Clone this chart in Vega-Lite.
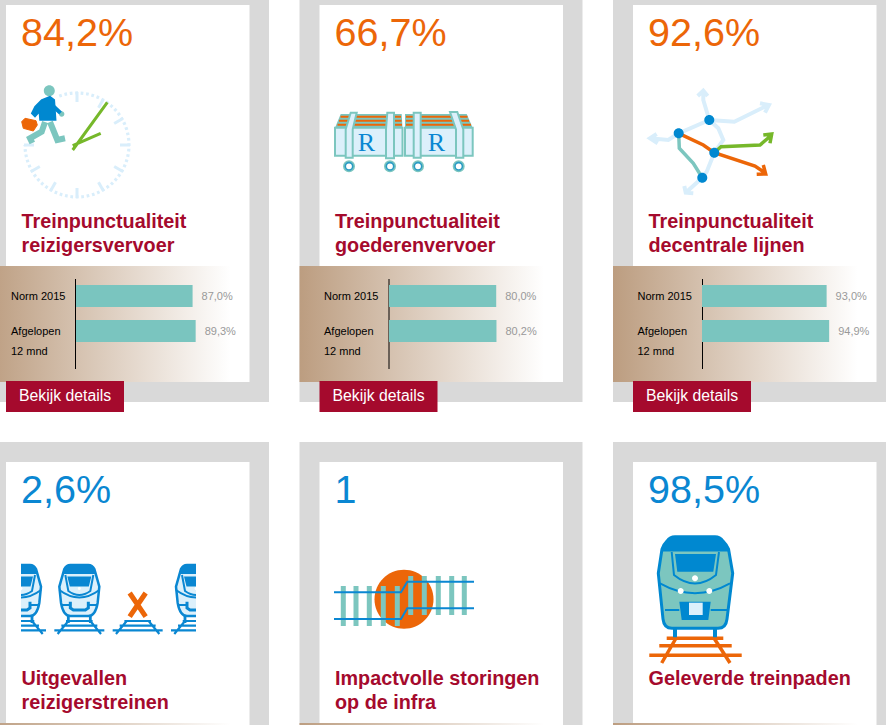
{
  "$schema": "https://vega.github.io/schema/vega-lite/v6.json",
  "width": 886,
  "height": 725,
  "autosize": "none",
  "padding": 0,
  "background": "white",
  "config": {"view": {"stroke": null}, "text": {"font": "Liberation Sans"}},
  "datasets": {
    "cards": [
      {"col": "c1", "row": "r1", "waarde": "84,2%", "titel": "Treinpunctualiteit\nreizigersvervoer"},
      {"col": "c2", "row": "r1", "waarde": "66,7%", "titel": "Treinpunctualiteit\ngoederenvervoer"},
      {"col": "c3", "row": "r1", "waarde": "92,6%", "titel": "Treinpunctualiteit\ndecentrale lijnen"},
      {"col": "c1", "row": "r2", "waarde": "2,6%", "titel": "Uitgevallen\nreizigerstreinen"},
      {"col": "c2", "row": "r2", "waarde": "1", "titel": "Impactvolle storingen\nop de infra"},
      {"col": "c3", "row": "r2", "waarde": "98,5%", "titel": "Geleverde treinpaden"}
    ],
    "bars": [
      {"col": "c1", "metric": "Norm 2015", "label": "Norm 2015", "value": 87.0, "tekst": "87,0%"},
      {"col": "c1", "metric": "Afgelopen", "label": "Afgelopen\n12 mnd", "value": 89.3, "tekst": "89,3%"},
      {"col": "c2", "metric": "Norm 2015", "label": "Norm 2015", "value": 80.0, "tekst": "80,0%"},
      {"col": "c2", "metric": "Afgelopen", "label": "Afgelopen\n12 mnd", "value": 80.2, "tekst": "80,2%"},
      {"col": "c3", "metric": "Norm 2015", "label": "Norm 2015", "value": 93.0, "tekst": "93,0%"},
      {"col": "c3", "metric": "Afgelopen", "label": "Afgelopen\n12 mnd", "value": 94.9, "tekst": "94,9%"}
    ],
    "slots": [
      {"slot": "links", "row": "r2", "status": "rijdt"},
      {"slot": "midden", "row": "r2", "status": "rijdt"},
      {"slot": "kruis", "row": "r2", "status": "uitgevallen"},
      {"slot": "rechts", "row": "r2", "status": "rijdt"}
    ]
  },
  "resolve": {"scale": {"x": "independent", "y": "independent"}},
  "layer": [
    {
      "encoding": {
        "x": {"field": "col", "type": "nominal", "axis": null, "scale": {"type": "point", "domain": ["c1", "c2", "c3"], "range": [6, 633], "padding": 0}},
        "y": {"field": "row", "type": "nominal", "axis": null, "scale": {"type": "point", "domain": ["r1", "r2"], "range": [0, 457], "padding": 0}}
      },
      "layer": [
        {
          "data": {"name": "cards"},
          "layer": [
            {"mark": {"type": "rect", "width": 283, "height": 417, "xOffset": 121.5, "yOffset": 193.5, "fill": "#d9d9d9"}},
            {"mark": {"type": "rect", "width": 243.5, "height": 377, "xOffset": 121.75, "yOffset": 193.5, "fill": "white"}},
            {"mark": {"type": "rect", "width": 263, "height": 116, "xOffset": 111.5, "yOffset": 324, "fill": {"gradient": "linear", "x1": 0, "y1": 0, "x2": 1, "y2": 0, "stops": [{"offset": 0, "color": "#bc9d80"}, {"offset": 0.93, "color": "#ffffff"}]}}},
            {"transform": [{"filter": "datum.row == 'r1'"}], "mark": {"type": "rect", "width": 1, "height": 90, "xOffset": 69.5, "yOffset": 324, "fill": "black"}},
            {"transform": [{"filter": "datum.row == 'r1'"}], "mark": {"type": "rect", "width": 118, "height": 31, "xOffset": 59, "yOffset": 396.5, "fill": "#a50a2d"}},
            {"transform": [{"filter": "datum.row == 'r1'"}], "mark": {"type": "text", "align": "left", "baseline": "alphabetic", "dx": 13, "dy": 401, "fontSize": 15.8, "fill": "white", "text": "Bekijk details"}},
            {
              "mark": {"type": "text", "align": "left", "baseline": "alphabetic", "dx": 15, "dy": 46, "fontSize": 39.5},
              "encoding": {
                "text": {"field": "waarde"},
                "color": {"field": "row", "type": "nominal", "legend": null, "scale": {"domain": ["r1", "r2"], "range": ["#ec6608", "#0a87d2"]}}
              }
            },
            {
              "mark": {"type": "text", "align": "left", "baseline": "alphabetic", "dx": 15.5, "dy": 227.5, "fontSize": 19.8, "fontWeight": "bold", "fill": "#a50a2d", "lineBreak": "\n", "lineHeight": 24},
              "encoding": {"text": {"field": "titel"}}
            }
          ]
        },
        {
          "data": {"values": [{"col": "c1", "row": "r1"}]},
          "layer": [
            {"mark": {"type": "point", "size": 4, "opacity": 1, "filled": false, "fill": "transparent", "stroke": "#d9eefb", "strokeWidth": 3.2, "strokeDash": [2.7, 2.75], "shape": "M53.2 96.1 A52 52 0 1 1 19 145"}},
            {"mark": {"type": "point", "size": 4, "opacity": 1, "filled": false, "fill": "transparent", "stroke": "#d9eefb", "strokeWidth": 3, "shape": "M71 102 L71 92 M92.5 107.8 L97.5 99.1 M108.2 123.5 L116.9 118.5 M114 145 L124 145 M108.2 166.5 L116.9 171.5 M92.5 182.2 L97.5 190.9 M71 188 L71 198 M49.5 182.2 L44.5 190.9 M33.8 166.5 L25.1 171.5 M28 145 L18 145"}},
            {"mark": {"type": "point", "size": 4, "opacity": 1, "filled": false, "fill": "transparent", "stroke": "#76b82a", "strokeWidth": 3, "shape": "M66.7 150 L101.3 102.3 M66.7 145.7 L94.7 133.3"}},
            {"mark": {"type": "point", "size": 4, "opacity": 1, "filled": false, "fill": "transparent", "stroke": "#7cc6bf", "strokeWidth": 6, "shape": "M39 122 L35.7 131.7 L24 138.3 L26.3 143 M44 122 L51.3 140 L59 138.3"}},
            {"mark": {"type": "point", "size": 4, "opacity": 1, "filled": true, "fill": "#7cc6bf", "strokeWidth": 0, "shape": "M37.8 90.7 A5.5 5.5 0 1 1 48.8 90.7 A5.5 5.5 0 1 1 37.8 90.7 Z M53 114 A2.7 2.7 0 1 1 58.4 114 A2.7 2.7 0 1 1 53 114 Z"}},
            {"mark": {"type": "point", "size": 4, "opacity": 1, "filled": true, "fill": "#0088d0", "stroke": "#0088d0", "strokeWidth": 1.5, "shape": "M35.7 100 L44 96.7 L48.3 100 L49.7 120 L34 120 L33.3 111.7 L29 116.7 L25.7 113.3 L29 106.7 Z"}},
            {"mark": {"type": "point", "size": 4, "opacity": 1, "filled": false, "fill": "transparent", "stroke": "#0088d0", "strokeWidth": 4, "shape": "M47 106 L54.5 113"}},
            {"mark": {"type": "point", "size": 4, "opacity": 1, "filled": true, "fill": "#ec6608", "stroke": "#ec6608", "strokeWidth": 1, "shape": "M15.7 121.7 L19 118.3 L30 120.7 L31.3 125 L27.3 131 L17.3 128.3 Z"}}
          ]
        },
        {
          "data": {"values": [{"col": "c2", "row": "r1"}]},
          "layer": [
            {"mark": {"type": "point", "size": 4, "opacity": 1, "filled": true, "fill": "#7cc6bf", "strokeWidth": 0, "shape": "M15.5 127.7 L21.2 114 H82.2 L83 127.7 Z M85.5 127.7 V114 H147.2 L153.2 127.7 Z"}},
            {"mark": {"type": "point", "size": 4, "opacity": 1, "filled": false, "fill": "transparent", "stroke": "#ec6608", "strokeWidth": 2, "shape": "M21 116.7 H81.5 M19.5 120.7 H82 M18 124.7 H82.5 M86.5 116.7 H148 M86.5 120.7 H149.5 M86.5 124.7 H151.5"}},
            {"mark": {"type": "point", "size": 4, "opacity": 1, "filled": true, "fill": "#dcf0fb", "stroke": "#7cc6bf", "strokeWidth": 2, "shape": "M15.5 127.7 H83 V155.7 H15.5 Z M85.5 127.7 H153.2 V155.7 H85.5 Z"}},
            {"mark": {"type": "point", "size": 4, "opacity": 1, "filled": true, "fill": "#dcf0fb", "stroke": "#7cc6bf", "strokeWidth": 2, "shape": "M31.2 112.7 H37.2 L33.2 129.3 V157.7 H26.2 V129.3 Z M67.8 112.7 H74.5 V158.3 H66.5 V129.3 Z M94.2 112.7 H101.2 V157.7 H94.2 Z M130.5 112 H137.8 L143.8 129.3 V157.7 H136.5 V129.3 Z"}},
            {"mark": {"type": "text", "align": "center", "baseline": "alphabetic", "dx": 46.8, "dy": 151, "font": "Liberation Serif", "fontSize": 26, "fill": "#0a87d2", "text": "R"}},
            {"mark": {"type": "text", "align": "center", "baseline": "alphabetic", "dx": 117, "dy": 151, "font": "Liberation Serif", "fontSize": 26, "fill": "#0a87d2", "text": "R"}},
            {"mark": {"type": "point", "size": 4, "opacity": 1, "filled": false, "fill": "transparent", "stroke": "#7cc6bf", "strokeWidth": 2, "shape": "M24.5 166.3 A5 5 0 1 1 34.5 166.3 A5 5 0 1 1 24.5 166.3 Z M65.5 166.3 A5 5 0 1 1 75.5 166.3 A5 5 0 1 1 65.5 166.3 Z M93.5 166.3 A5 5 0 1 1 103.5 166.3 A5 5 0 1 1 93.5 166.3 Z M134.2 166.3 A5 5 0 1 1 144.2 166.3 A5 5 0 1 1 134.2 166.3 Z"}},
            {"mark": {"type": "point", "size": 4, "opacity": 1, "filled": false, "fill": "transparent", "stroke": "#2a9bc4", "strokeWidth": 1.6, "shape": "M25.8 166.3 A3.7 3.7 0 1 1 33.2 166.3 A3.7 3.7 0 1 1 25.8 166.3 Z M66.8 166.3 A3.7 3.7 0 1 1 74.2 166.3 A3.7 3.7 0 1 1 66.8 166.3 Z M94.8 166.3 A3.7 3.7 0 1 1 102.2 166.3 A3.7 3.7 0 1 1 94.8 166.3 Z M135.5 166.3 A3.7 3.7 0 1 1 142.9 166.3 A3.7 3.7 0 1 1 135.5 166.3 Z"}}
          ]
        },
        {
          "data": {"values": [{"col": "c3", "row": "r1"}]},
          "layer": [
            {"mark": {"type": "point", "size": 4, "opacity": 1, "filled": false, "fill": "transparent", "stroke": "#d9eefb", "strokeWidth": 4, "shape": "M45.7 133.3 L76.3 120 M76.3 120 L70.3 100 L70.3 92 M64.7 96 L70.3 90.7 L74.7 96 M76.3 120 L101.3 121.7 L135.3 105 M127 103.3 L136 105 L132 112.7 M76.3 120 L85.3 128.3 L90.3 140 L81.3 152.7 L73.7 171.7 L69.3 177.7 M69.3 177.7 L53.7 191.7 M51.3 186 L52.7 192.7 L60.3 193.3 M45.7 133.3 L35.3 140 L17 138.3 M23.7 134 L17 138.3 L24.7 143.3"}},
            {"mark": {"type": "point", "size": 4, "opacity": 1, "filled": false, "fill": "transparent", "stroke": "#7cc6bf", "strokeWidth": 3.5, "shape": "M45.7 133.3 L46.3 148.3 L60.3 163.3 L69.3 177.7"}},
            {"mark": {"type": "point", "size": 4, "opacity": 1, "filled": false, "fill": "transparent", "stroke": "#ec6608", "strokeWidth": 3.5, "shape": "M45.7 133.3 L70.3 145 L81.3 152.7 L122 166 L132.7 173.3 M130.3 165 L132.7 174 L123.7 174.3"}},
            {"mark": {"type": "point", "size": 4, "opacity": 1, "filled": false, "fill": "transparent", "stroke": "#76b82a", "strokeWidth": 3.5, "shape": "M81.3 152.7 L88 146.7 L127 145 L138.7 135 M130.3 135 L138.7 134 L137 143.3"}},
            {"mark": {"type": "point", "size": 4, "opacity": 1, "filled": true, "fill": "#0088d0", "strokeWidth": 0, "shape": "M40.7 133.3 A5 5 0 1 1 50.7 133.3 A5 5 0 1 1 40.7 133.3 Z M71.3 120 A5 5 0 1 1 81.3 120 A5 5 0 1 1 71.3 120 Z M76.3 152.7 A5 5 0 1 1 86.3 152.7 A5 5 0 1 1 76.3 152.7 Z M64.3 177.7 A5 5 0 1 1 74.3 177.7 A5 5 0 1 1 64.3 177.7 Z"}}
          ]
        },
        {
          "data": {"values": [{"col": "c2", "row": "r2"}]},
          "layer": [
            {"mark": {"type": "point", "size": 4, "opacity": 1, "filled": true, "fill": "#ec6608", "strokeWidth": 0, "shape": "M55 142.3 A29.5 29.5 0 1 1 114 142.3 A29.5 29.5 0 1 1 55 142.3 Z"}},
            {"mark": {"type": "point", "size": 4, "opacity": 1, "filled": false, "fill": "transparent", "stroke": "#7cc6bf", "strokeWidth": 5, "shape": "M23.8 129 V169 M36.5 129 V169 M49.8 129 V169 M63.8 129 V169 M77.8 129 V169 M91.2 119 V158 M104.8 119 V158 M118.8 119 V158 M132.2 119 V158 M144.8 119 V158"}},
            {"mark": {"type": "point", "size": 4, "opacity": 1, "filled": false, "fill": "transparent", "stroke": "#0a87d2", "strokeWidth": 2, "shape": "M14.5 135.3 H81.5 L87.8 124.7 H154.5 M14.5 162 H81.5 L87.8 151.3 H154.5"}}
          ]
        },
        {
          "data": {"values": [{"col": "c3", "row": "r2"}]},
          "layer": [
            {"mark": {"type": "point", "size": 4, "opacity": 1, "filled": false, "fill": "transparent", "stroke": "#ec6608", "strokeWidth": 3.5, "shape": "M33.7 181.3 H90.3 M26.3 188.7 H98.7 M16.3 198.3 H108.7 M43.7 180 L28.7 206 M80.3 180 L97 206"}},
            {"mark": {"type": "point", "size": 4, "opacity": 1, "filled": false, "fill": "transparent", "stroke": "#0088d0", "strokeWidth": 4, "shape": "M42 171.3 V180.3 M82 171.3 V180.3"}},
            {"mark": {"type": "point", "size": 4, "opacity": 1, "filled": true, "fill": "#7cc6bf", "stroke": "#0088d0", "strokeWidth": 3, "shape": "M42 79.7 H82 Q87 79.7 90 84 Q94 88 95.5 92 L99.7 116.3 L94 162 Q93 171.3 85 171.3 H39 Q31 171.3 30 162 L25.3 116.3 L29 92 Q30 88 34 84 Q37 79.7 42 79.7 Z"}},
            {"mark": {"type": "point", "size": 4, "opacity": 1, "filled": true, "fill": "#0088d0", "strokeWidth": 0, "shape": "M42 79.7 H82 Q87 79.7 90 84 Q94 88 95.5 94.5 H29 Q30 88 34 84 Q37 79.7 42 79.7 Z M42 97 H83 L80.3 114.7 H44.3 Z M46.3 144.7 H77.7 L75.3 163 H48.7 Z"}},
            {"mark": {"type": "point", "size": 4, "opacity": 1, "filled": false, "fill": "transparent", "stroke": "#0088d0", "strokeWidth": 2, "shape": "M38.7 95 L41 118 Q62 135 83 118 L86 95 M27 126.3 Q62 146 97 126.3 M32 153 H46.3 M77.7 153 H95"}},
            {"mark": {"type": "point", "size": 4, "opacity": 1, "filled": true, "fill": "#dcf0fb", "strokeWidth": 0, "shape": "M56 145.7 H69.7 V158 H56 Z"}},
            {"mark": {"type": "point", "size": 4, "opacity": 1, "filled": true, "fill": "white", "strokeWidth": 0, "shape": "M59 121.3 A3 3 0 1 1 65 121.3 A3 3 0 1 1 59 121.3 Z M44.7 134 A3 3 0 1 1 50.7 134 A3 3 0 1 1 44.7 134 Z M73.3 134 A3 3 0 1 1 79.3 134 A3 3 0 1 1 73.3 134 Z"}}
          ]
        }
      ]
    },
    {
      "data": {"name": "bars"},
      "transform": [{"filter": "datum.col == 'c1'"}],
      "encoding": {
        "x": {"field": "value", "type": "quantitative", "axis": null, "scale": {"domain": [0, 100], "range": [76, 210]}},
        "y": {"field": "metric", "type": "nominal", "axis": null, "scale": {"type": "band", "domain": ["Norm 2015", "Afgelopen"], "range": [285, 342], "paddingInner": 0.371, "paddingOuter": 0}}
      },
      "layer": [
        {"mark": {"type": "bar", "fill": "#7ac5bf"}},
        {"mark": {"type": "text", "align": "left", "baseline": "alphabetic", "dx": 9, "dy": 4, "fontSize": 11, "fill": "#999999"}, "encoding": {"text": {"field": "tekst"}}},
        {"mark": {"type": "text", "align": "left", "baseline": "alphabetic", "dx": -65, "dy": 4, "fontSize": 11, "fill": "black", "lineBreak": "\n", "lineHeight": 20}, "encoding": {"x": {"datum": 0}, "text": {"field": "label"}}}
      ]
    },
    {
      "data": {"name": "bars"},
      "transform": [{"filter": "datum.col == 'c2'"}],
      "encoding": {
        "x": {"field": "value", "type": "quantitative", "axis": null, "scale": {"domain": [0, 100], "range": [389, 523]}},
        "y": {"field": "metric", "type": "nominal", "axis": null, "scale": {"type": "band", "domain": ["Norm 2015", "Afgelopen"], "range": [285, 342], "paddingInner": 0.371, "paddingOuter": 0}}
      },
      "layer": [
        {"mark": {"type": "bar", "fill": "#7ac5bf"}},
        {"mark": {"type": "text", "align": "left", "baseline": "alphabetic", "dx": 9, "dy": 4, "fontSize": 11, "fill": "#999999"}, "encoding": {"text": {"field": "tekst"}}},
        {"mark": {"type": "text", "align": "left", "baseline": "alphabetic", "dx": -65, "dy": 4, "fontSize": 11, "fill": "black", "lineBreak": "\n", "lineHeight": 20}, "encoding": {"x": {"datum": 0}, "text": {"field": "label"}}}
      ]
    },
    {
      "data": {"name": "bars"},
      "transform": [{"filter": "datum.col == 'c3'"}],
      "encoding": {
        "x": {"field": "value", "type": "quantitative", "axis": null, "scale": {"domain": [0, 100], "range": [702, 836]}},
        "y": {"field": "metric", "type": "nominal", "axis": null, "scale": {"type": "band", "domain": ["Norm 2015", "Afgelopen"], "range": [285, 342], "paddingInner": 0.371, "paddingOuter": 0}}
      },
      "layer": [
        {"mark": {"type": "bar", "fill": "#7ac5bf"}},
        {"mark": {"type": "text", "align": "left", "baseline": "alphabetic", "dx": 9, "dy": 4, "fontSize": 11, "fill": "#999999"}, "encoding": {"text": {"field": "tekst"}}},
        {"mark": {"type": "text", "align": "left", "baseline": "alphabetic", "dx": -64.5, "dy": 4, "fontSize": 11, "fill": "black", "lineBreak": "\n", "lineHeight": 20}, "encoding": {"x": {"datum": 0}, "text": {"field": "label"}}}
      ]
    },
    {
      "data": {"name": "slots"},
      "encoding": {
        "x": {"field": "slot", "type": "nominal", "axis": null, "scale": {"type": "point", "domain": ["links", "midden", "kruis", "rechts"], "range": [21, 196], "padding": 0}},
        "y": {"field": "row", "type": "nominal", "axis": null, "scale": {"type": "point", "domain": ["r1", "r2"], "range": [0, 457], "padding": 0}}
      },
      "layer": [
        {"mark": {"type": "point", "size": 4, "opacity": 1, "filled": false, "fill": "transparent", "stroke": "#0a87d2", "strokeWidth": 2.2, "shape": "M-13.3 164 H13.3 M-18 168.7 H18 M-25 173.3 H25 M-11 164 L-21.7 177 M11 164 L21.7 177"}},
        {
          "transform": [{"filter": "datum.status == 'rijdt'"}],
          "layer": [
            {"mark": {"type": "point", "size": 4, "opacity": 1, "filled": false, "fill": "transparent", "stroke": "#0a87d2", "strokeWidth": 2.8, "shape": "M-11 159 V166 M11 159 V166"}},
            {"mark": {"type": "point", "size": 4, "opacity": 1, "filled": true, "fill": "#dcf0fb", "stroke": "#0a87d2", "strokeWidth": 2.5, "shape": "M-9 108 H9 Q13 108 15 112 L20 129.7 L18.3 146 Q16 159 9 159 H-9 Q-16 159 -18.3 146 L-20 129.7 L-15 112 Q-13 108 -9 108 Z"}},
            {"mark": {"type": "point", "size": 4, "opacity": 1, "filled": true, "fill": "#0a87d2", "strokeWidth": 0, "shape": "M-9 108 H9 Q13 108 15 112 L16.5 117 H-16.5 L-15 112 Q-13 108 -9 108 Z M-12 119.5 H12 L9.5 129.5 H-9.5 Z"}},
            {"mark": {"type": "point", "size": 4, "opacity": 1, "filled": false, "fill": "transparent", "stroke": "#0a87d2", "strokeWidth": 2, "shape": "M-14 118 L-11 134 Q0 142 11 134 L14 118 M-20 133 Q0 148 20 133 M-18 148 H-9 M9 148 H18"}},
            {"mark": {"type": "point", "size": 4, "opacity": 1, "filled": false, "fill": "transparent", "stroke": "#0a87d2", "strokeWidth": 3, "shape": "M-9 144.7 V151 L-6 153 H6 L9 151 V144.7"}},
            {"mark": {"type": "point", "size": 4, "opacity": 1, "filled": true, "fill": "white", "strokeWidth": 0, "shape": "M-1.5 131.5 A1.5 1.5 0 1 1 1.5 131.5 A1.5 1.5 0 1 1 -1.5 131.5 Z"}}
          ]
        },
        {
          "transform": [{"filter": "datum.status == 'uitgevallen'"}],
          "mark": {"type": "point", "size": 4, "opacity": 1, "filled": false, "fill": "transparent", "stroke": "#ec6608", "strokeWidth": 5, "shape": "M-8 136 L8 159.7 M8 136 L-8 159.7"}
        },
        {
          "transform": [{"filter": "datum.slot == 'links'"}],
          "layer": [
            {"mark": {"type": "rect", "width": 15, "height": 80, "xOffset": -7.5, "yOffset": 143, "fill": "white"}},
            {"mark": {"type": "rect", "width": 6, "height": 80, "xOffset": -18, "yOffset": 143, "fill": "#d9d9d9"}}
          ]
        },
        {
          "transform": [{"filter": "datum.slot == 'rechts'"}],
          "mark": {"type": "rect", "width": 30, "height": 80, "xOffset": 15, "yOffset": 143, "fill": "white"}
        }
      ]
    }
  ]
}
